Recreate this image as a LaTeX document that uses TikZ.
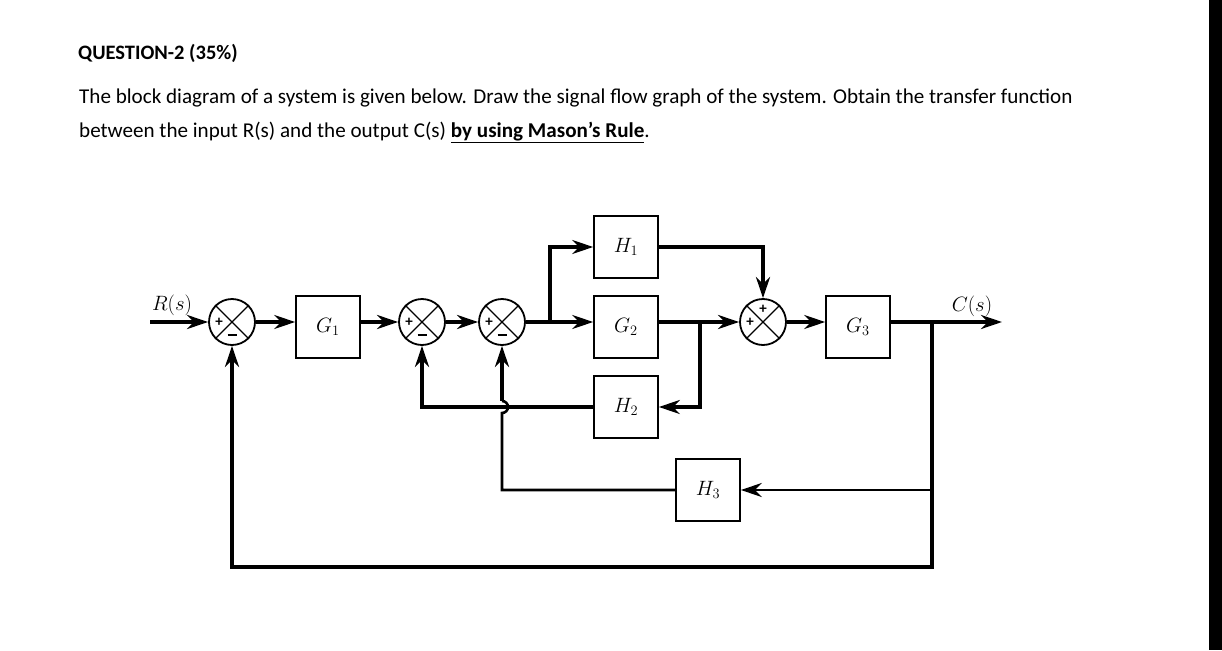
\documentclass[tikz,border=0pt]{standalone}
\usepackage{fontspec}
\setmainfont{Carlito}
\usetikzlibrary{arrows.meta}
\begin{document}
\begin{tikzpicture}[x=1pt,y=-1pt,
  blk/.style={draw,line width=1.6pt,minimum width=64pt,minimum height=62pt,inner sep=0pt,font=\fontsize{21}{21}\selectfont},
  sumj/.style={draw,circle,line width=1.8pt,minimum size=46pt,inner sep=0pt},
  sig/.style={line width=4pt,-{Stealth[length=21pt,width=14pt]}},
  thin/.style={line width=2.6pt},
  sgn/.style={font=\bfseries\fontsize{15}{15}\selectfont,inner sep=0pt}]
\useasboundingbox (0,0) rectangle (1222,650);
\fill[black] (1209,0) rectangle (1222,650);
\node[anchor=base west,font=\bfseries\fontsize{20.5}{20.5}\selectfont,inner sep=0pt] (q) at (78,60) {QUESTION-2 (35\%)};
\node[anchor=base west,font=\fontsize{21.1}{21.1}\selectfont,inner sep=0pt] (p1) at (79,104) {The block diagram of a system is given below. Draw the signal flow graph of the system. Obtain the transfer function};
\node[anchor=base west,font=\fontsize{21.1}{21.1}\selectfont,inner sep=0pt] (p2) at (79,137) {between the input R(s) and the output C(s) \textbf{\underline{by using Mason’s Rule}}.};
% junctions
\foreach \n/\x/\y in {s1/232/322,s2/422/322,s3/502/322,s4/763/322}{
  \node[sumj] (\n) at (\x,\y) {};
  \draw[line width=1.3pt] (\n.north west) -- (\n.south east) (\n.north east) -- (\n.south west);
}
\foreach \n in {s1,s2,s3}{
  \node[sgn] at ([xshift=-13pt]\n.center) {+};
  \node[inner sep=0pt] at ([yshift=-13pt]\n.center) {\rule{9pt}{2.2pt}};
}
\node[sgn] at ([xshift=-13pt]s4.center) {+};
\node[sgn] at ([yshift=13pt]s4.center) {+};
% blocks
\node[blk] (G1) at (328,327) {$G_1$};
\node[blk] (H1) at (626,247) {$H_1$};
\node[blk] (G2) at (626,327) {$G_2$};
\node[blk] (H2) at (626,407) {$H_2$};
\node[blk] (G3) at (858,327) {$G_3$};
\node[blk] (H3) at (708,490) {$H_3$};
% labels
\node[font=\fontsize{21}{21}\selectfont] (R) at (172,305) {$R(s)$};
\node[font=\fontsize{21}{21}\selectfont] (C) at (972,306) {$C(s)$};
\coordinate (in) at (150,322);
\coordinate (out) at (1002,322);
\coordinate (b1) at (550,322);
\coordinate (b2) at (700,322);
\coordinate (b3) at (932,322);
% forward path
\draw[sig] (in) -- (s1.west);
\draw[sig] (s1.east) -- (G1.west |- s1.east);
\draw[sig] (G1.east |- s2.west) -- (s2.west);
\draw[sig] (s2.east) -- (s3.west);
\draw[sig] (s3.east) -- (G2.west |- s3.east);
\draw[sig] (b1) |- (H1.west);
\draw[sig] (G2.east |- b2) -- (s4.west);
\draw[sig] (H1.east) -| (s4.north);
\draw[sig] (s4.east) -- (G3.west |- s4.east);
\draw[sig] (G3.east |- out) -- (out);
% feedbacks
\draw[sig] (b2) |- (H2.east);
\draw[sig] (H2.west) -| (s2.south);
\draw[thin,-{Stealth[length=21pt,width=14pt]}] (b3) |- (H3.east);
\draw[thin] (H3.west) -- (502,490) -- (502,413) arc (90:-90:6);
\draw[sig] (502,401) -- (s3.south);
\draw[sig] (b3) -- (932,567) -| (s1.south);
\end{tikzpicture}
\end{document}
